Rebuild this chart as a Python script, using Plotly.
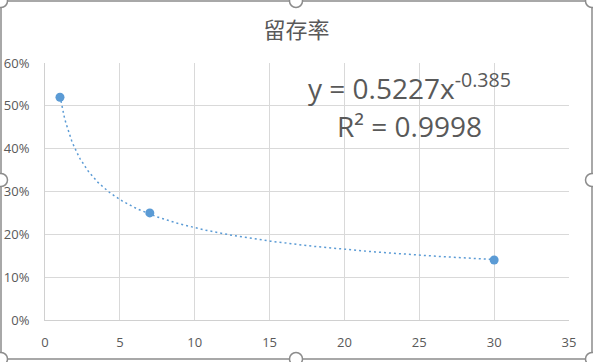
import numpy as np
import plotly.graph_objects as go

# Data
days = [1, 7, 30]
retention = [0.52, 0.25, 0.14]
fit_a = 0.5227
fit_b = -0.385
title_text = "留存率"
eq_line1 = "y = 0.5227x<sup>-0.385</sup>"
eq_line2 = "R² = 0.9998"

W, H = 593, 362
ML, MR, MT, MB = 45, 24, 63, 42
PW, PH = W - ML - MR, H - MT - MB

def px(x):
    return (x - ML) / PW

def py(y):
    return (H - MB - y) / PH

xs = np.linspace(min(days), max(days), 300)
ys = fit_a * xs ** fit_b

blue = "#5B9BD5"
grey_text = "#595959"

fig = go.Figure()
fig.add_trace(go.Scatter(x=xs, y=ys, mode="lines",
                         line=dict(color=blue, width=1.5, dash="2px,3px"),
                         hoverinfo="skip", showlegend=False))
fig.add_trace(go.Scatter(x=days, y=retention, mode="markers",
                         marker=dict(color=blue, size=9),
                         showlegend=False))

# frame and handles
shapes = [dict(type="rect", xref="paper", yref="paper",
               x0=px(1), x1=px(592), y0=py(1), y1=py(359),
               line=dict(color="#8c8c8c", width=1.5), fillcolor="rgba(0,0,0,0)", layer="below")]
r = 6.5
for cx, cy in [(1, 1), (296, 1), (592, 1), (1, 180), (592, 180), (1, 359), (296, 359), (592, 359)]:
    shapes.append(dict(type="circle", xref="paper", yref="paper",
                       x0=px(cx - r), x1=px(cx + r), y0=py(cy - r), y1=py(cy + r),
                       line=dict(color="#8c8c8c", width=1.5), fillcolor="white", layer="above"))

fig.update_layout(
    width=W, height=H,
    margin=dict(l=ML, r=MR, t=MT, b=MB, autoexpand=False),
    paper_bgcolor="white", plot_bgcolor="white",
    font=dict(family="Open Sans, Noto Sans CJK SC", color=grey_text, size=13),
    title=dict(text=title_text, x=0.5, xanchor="center", y=1 - 30 / H, yanchor="middle",
               font=dict(size=22, color=grey_text, family="Noto Sans CJK SC")),
    xaxis=dict(range=[0, 35], dtick=5, tick0=0, showgrid=True, gridcolor="#d9d9d9",
               showline=True, linecolor="#d0d0d0", zeroline=False, ticks="",
               tickfont=dict(size=13, color=grey_text), ticklabelstandoff=10, automargin=False),
    yaxis=dict(range=[0, 0.6], dtick=0.1, tickformat=".0%", showgrid=True, gridcolor="#d9d9d9",
               showline=True, linecolor="#d0d0d0", zeroline=False, ticks="",
               tickfont=dict(size=13, color=grey_text), ticklabelstandoff=12, automargin=False),
    shapes=shapes,
    annotations=[
        dict(text=eq_line1, xref="paper", yref="paper", x=px(409), y=py(86),
             xanchor="center", yanchor="middle", showarrow=False,
             font=dict(size=28, color=grey_text, family="Open Sans")),
        dict(text=eq_line2, xref="paper", yref="paper", x=px(409), y=py(126),
             xanchor="center", yanchor="middle", showarrow=False,
             font=dict(size=28, color=grey_text, family="Open Sans")),
    ],
)

fig.write_html("out.html")
